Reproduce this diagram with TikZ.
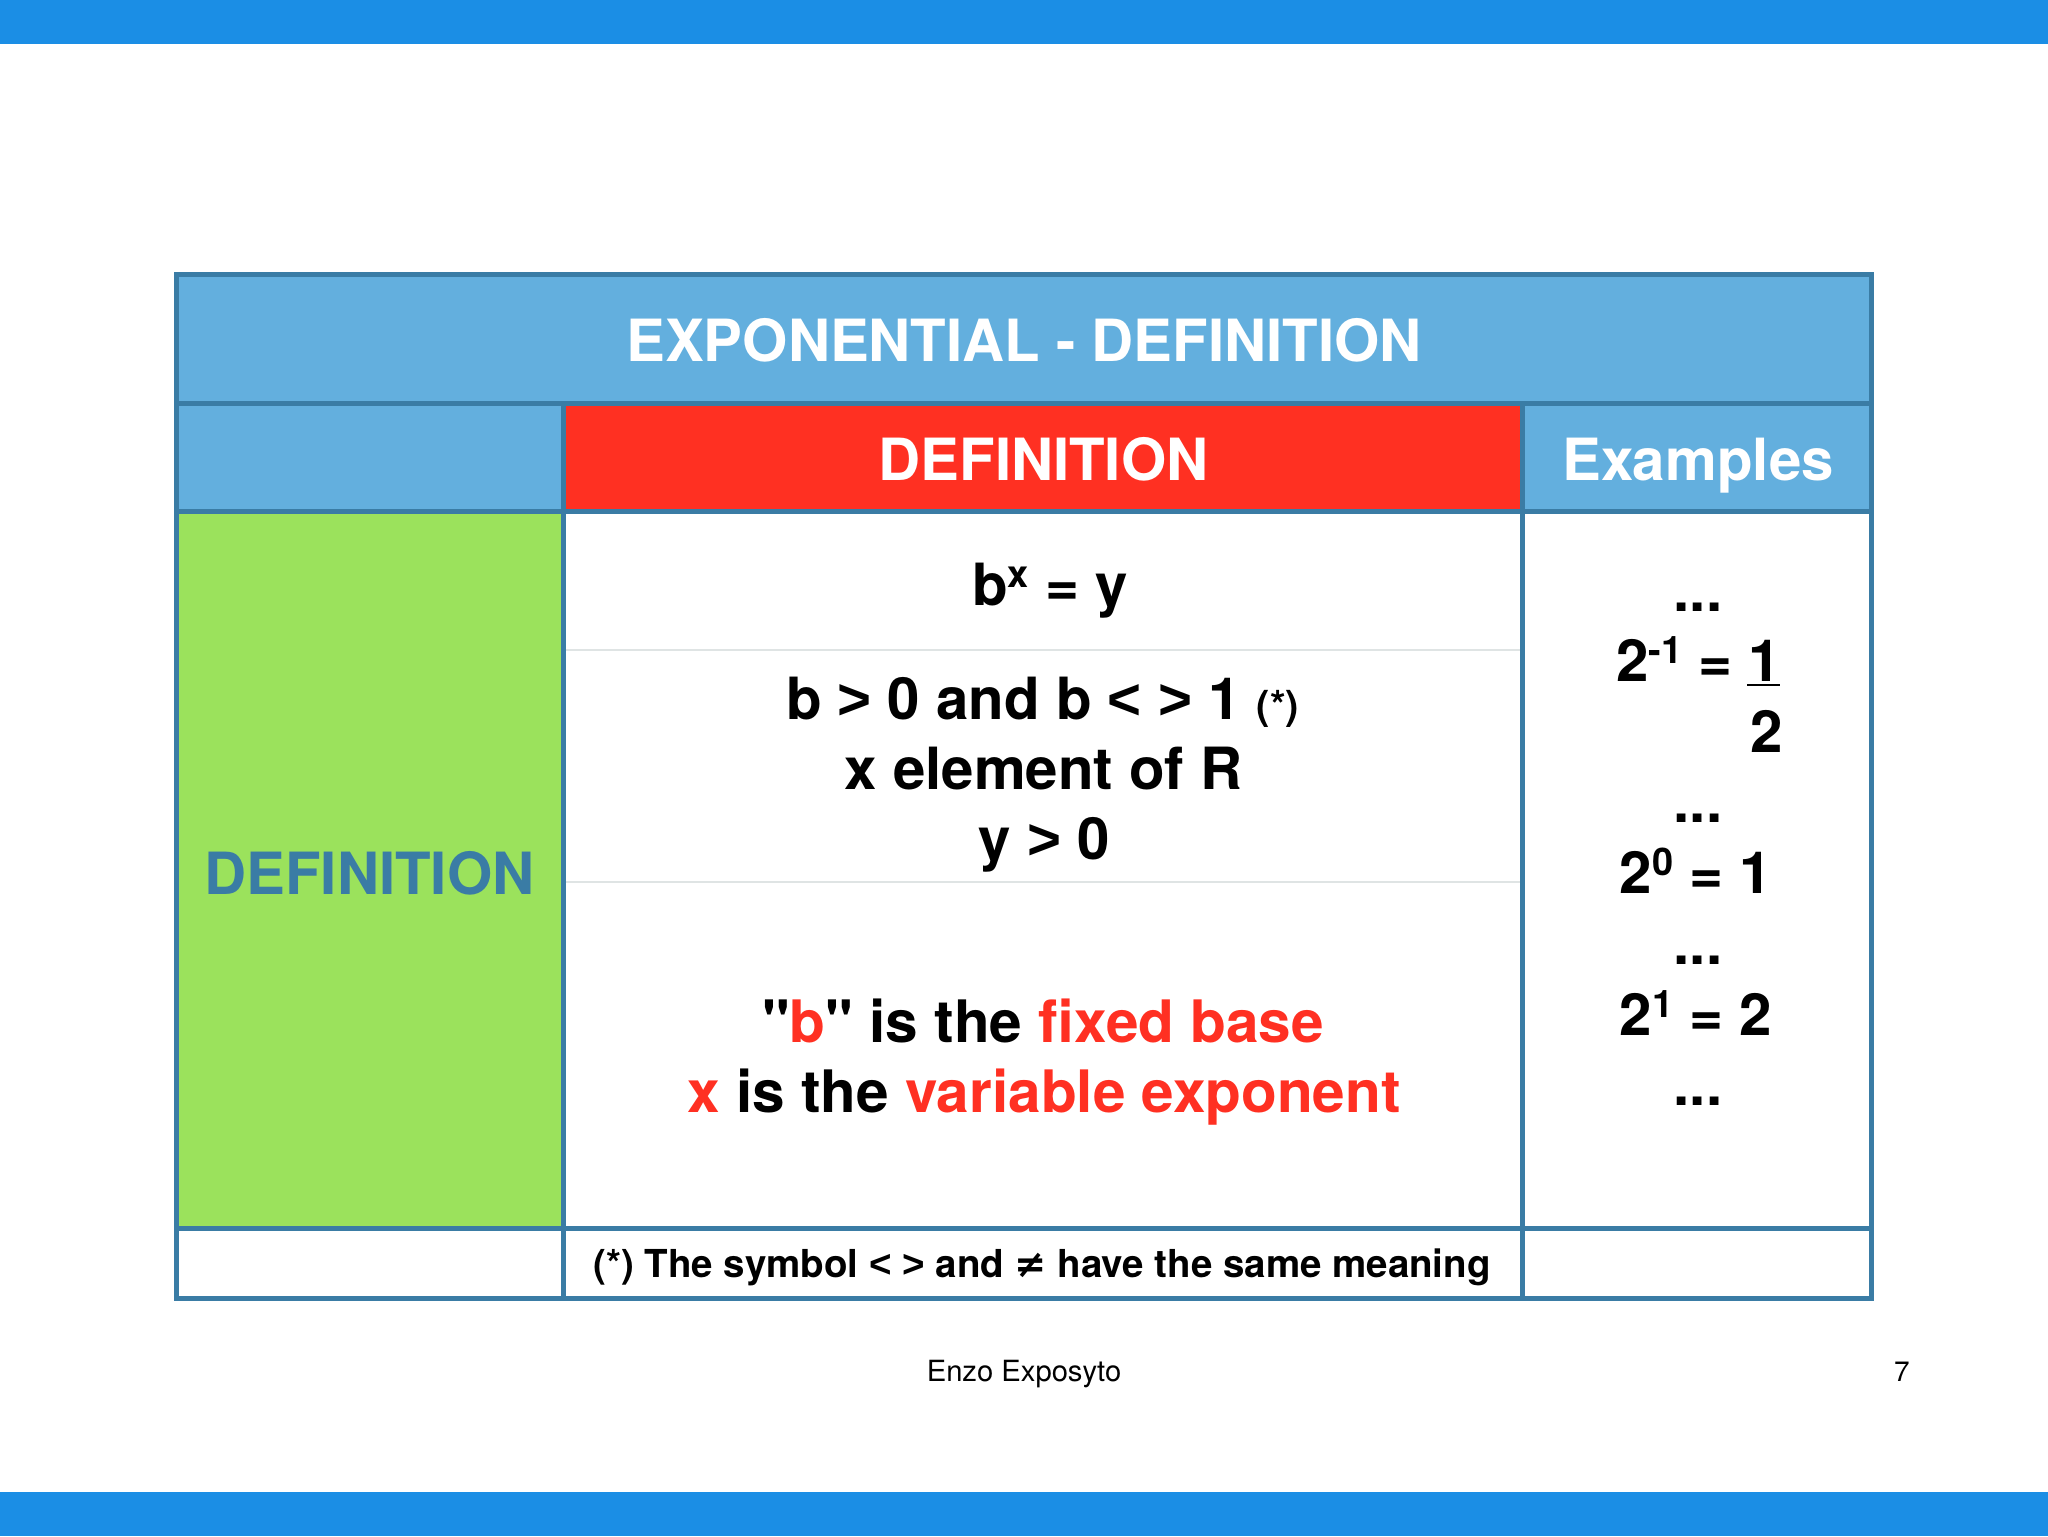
\documentclass[tikz,border=0pt]{standalone}
\usepackage{fontspec}
\setmainfont[Ligatures=TeXOff]{TeX Gyre Heros}
\newfontfamily\symfont{DejaVu Sans}
\newfontfamily\angfont{Liberation Sans}
\definecolor{barblue}{HTML}{1B8EE5}
\definecolor{headblue}{HTML}{63AFDE}
\definecolor{gridblue}{HTML}{3A7CA5}
\definecolor{hotred}{HTML}{FF3022}
\definecolor{leaf}{HTML}{9BE25C}
\definecolor{softline}{HTML}{DFE4E4}
\newcommand{\pxfont}[1]{\fontsize{#1pt}{#1pt}\selectfont}
\newcommand{\hi}[1]{\textcolor{hotred}{#1}}
\newcommand{\up}[1]{\raisebox{9pt}{\pxfont{19}#1}}
\newcommand{\ang}[1]{{\angfont\bfseries #1}}
\tikzset{
  big/.style={inner sep=0pt,anchor=base,font=\pxfont{29.1}\bfseries},
  wide/.style={inner sep=0pt,anchor=base,font=\pxfont{29.25}\bfseries},
  foot/.style={inner sep=0pt,anchor=base,font=\pxfont{19.25}\bfseries},
  plain/.style={inner sep=0pt,anchor=base,font=\pxfont{14.6}},
  grid/.style={draw=gridblue,line width=2.5pt},
  soft/.style={draw=softline,line width=0.6pt}
}
\begin{document}
\begin{tikzpicture}[x=0.5pt,y=-0.5pt]
\useasboundingbox (0,0) rectangle (2048,1536);
\fill[white] (0,0) rectangle (2048,1536);
\fill[barblue] (0,0) rectangle (2048,44);
\fill[barblue] (0,1492) rectangle (2048,1536);
% cells
\fill[headblue] (176,274) rectangle (1871,511);
\fill[hotred] (563,404) rectangle (1522.5,511);
\fill[leaf] (176,511) rectangle (563,1228);
% grid
\draw[soft] (565,650) -- (1520,650);
\draw[soft] (565,882) -- (1520,882);
\draw[grid] (176,274) rectangle (1871,1298.5);
\draw[grid] (176,403.5) -- (1871,403.5);
\draw[grid] (176,511.5) -- (1871,511.5);
\draw[grid] (176,1228) -- (1871,1228);
\draw[grid] (563,403.5) -- (563,1298.5);
\draw[grid] (1522.5,403.5) -- (1522.5,1298.5);
% header text
\node[big,text=white] (title) at (1024,361) {EXPONENTIAL - DEFINITION};
\node[big,text=white] (defhead) at (1043.5,480.5) {DEFINITION};
\node[big,text=white] (exhead) at (1698,480.5) {Examples};
\node[big,text=gridblue] (defside) at (369.5,894.5) {DEFINITION};
% definition column
\node[big] (l1) at (1050,605) {b\up{x} = y};
\node[big] (l2) at (1042.5,719) {b \ang{>} 0 and b \ang{<} \ang{>} 1 {\pxfont{20}(*)}};
\node[big] (l3) at (1043.5,789) {x element of R};
\node[big] (l4) at (1044,859) {y \ang{>} 0};
\node[wide] (l5) at (1043,1042) {"\hi{b}" is the \hi{fixed base}};
\node[wide] (l6) at (1044,1112) {\hi{x} is the \hi{variable exponent}};
% examples column
\node[big] (d1) at (1698,611) {...};
\node[big,anchor=base west] (e1) at (1616,681) {2\up{-1} = 1};
\draw[draw=black,line width=0.9pt] (1747,685) -- (1780,685);
\node[big] (e1b) at (1767,752) {2};
\node[big] (d2) at (1698,822) {...};
\node[big] (e2) at (1696,893) {2\up{0} = 1};
\node[big] (d3) at (1698,964) {...};
\node[big] (e3) at (1696,1035) {2\up{1} = 2};
\node[big] (d4) at (1698,1105.5) {...};
% footnote and footer
\node[foot] (note) at (1042,1277) {(*) The symbol \ang{<} \ang{>} and {\symfont\bfseries ≠} have the same meaning};
\node[plain] (author) at (1024,1381.7) {Enzo Exposyto};
\node[plain,font=\pxfont{14}] (page) at (1902,1381.7) {7};
\end{tikzpicture}
\end{document}
